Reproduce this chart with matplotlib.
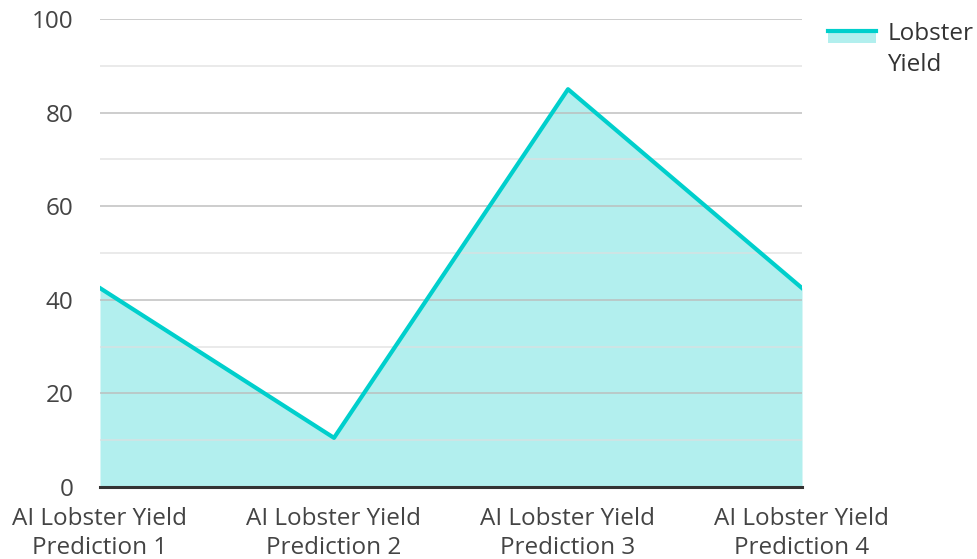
import matplotlib.pyplot as plt
from matplotlib.patches import Rectangle
from matplotlib.lines import Line2D

plt.rcParams['font.family'] = ['Open Sans', 'DejaVu Sans']

categories = ['AI Lobster Yield\nPrediction 1', 'AI Lobster Yield\nPrediction 2',
              'AI Lobster Yield\nPrediction 3', 'AI Lobster Yield\nPrediction 4']
yield_values = [42.5, 10.5, 85, 42.5]
series_name = 'Lobster\nYield'

line_color = '#00cfcc'
fill_color = '#b2efee'


# legend key: fill block with the line on its top edge, lined up with the first text line
class AreaHandler:
    def legend_artist(self, legend, orig_handle, fontsize, handlebox):
        x0, y0 = -handlebox.xdescent, -handlebox.ydescent
        w, h = handlebox.width, handlebox.height
        ly = y0 + h / 2 + 0.78 * fontsize
        tr = handlebox.get_transform()
        rect = Rectangle((x0, ly - 8.5), w, 8.5, facecolor=fill_color, edgecolor='none', transform=tr)
        ln = Line2D([x0, x0 + w], [ly, ly], color=line_color, lw=3, transform=tr)
        handlebox.add_artist(rect)
        handlebox.add_artist(ln)
        return rect


fig = plt.figure(figsize=(9.78, 5.59), dpi=100)
ax = fig.add_axes([100/978, 1-487/559, 702/978, 468/559])

x = list(range(len(categories)))
ax.fill_between(x, yield_values, 0, color=fill_color, lw=0, zorder=1)
ax.plot(x, yield_values, color=line_color, lw=3, zorder=3)

ax.set_xlim(0, len(categories)-1)
ax.set_ylim(0, 100)
ax.set_yticks(range(0, 101, 20))
ax.set_yticks(range(10, 100, 20), minor=True)
ax.grid(axis='y', which='major', color='#bcbcbc', lw=1.3, alpha=0.8, zorder=2)
ax.grid(axis='y', which='minor', color='#dedede', lw=1.1, alpha=0.8, zorder=2)
ax.set_axisbelow(False)

ax.set_xticks(x)
ax.set_xticklabels(categories, linespacing=1.25)
for s in ['top', 'right', 'left']:
    ax.spines[s].set_visible(False)
ax.spines['bottom'].set_color('#333333')
ax.spines['bottom'].set_linewidth(2.2)
ax.spines['bottom'].set_zorder(4)
ax.tick_params(axis='both', which='both', length=0, labelsize=17.5, labelcolor='#444444')
ax.tick_params(axis='y', pad=19)
ax.tick_params(axis='x', pad=14.5)

handle = Rectangle((0, 0), 1, 1)
leg = fig.legend([handle], [series_name], loc='upper left', bbox_to_anchor=(806/978, 1-0/559),
                 frameon=False, fontsize=17.5, handlelength=2.0, handleheight=0.5,
                 handletextpad=0.45, handler_map={Rectangle: AreaHandler()})
for t in leg.get_texts():
    t.set_color('#333333')
    t.set_linespacing(1.38)

fig.savefig('out.png', dpi=100)
